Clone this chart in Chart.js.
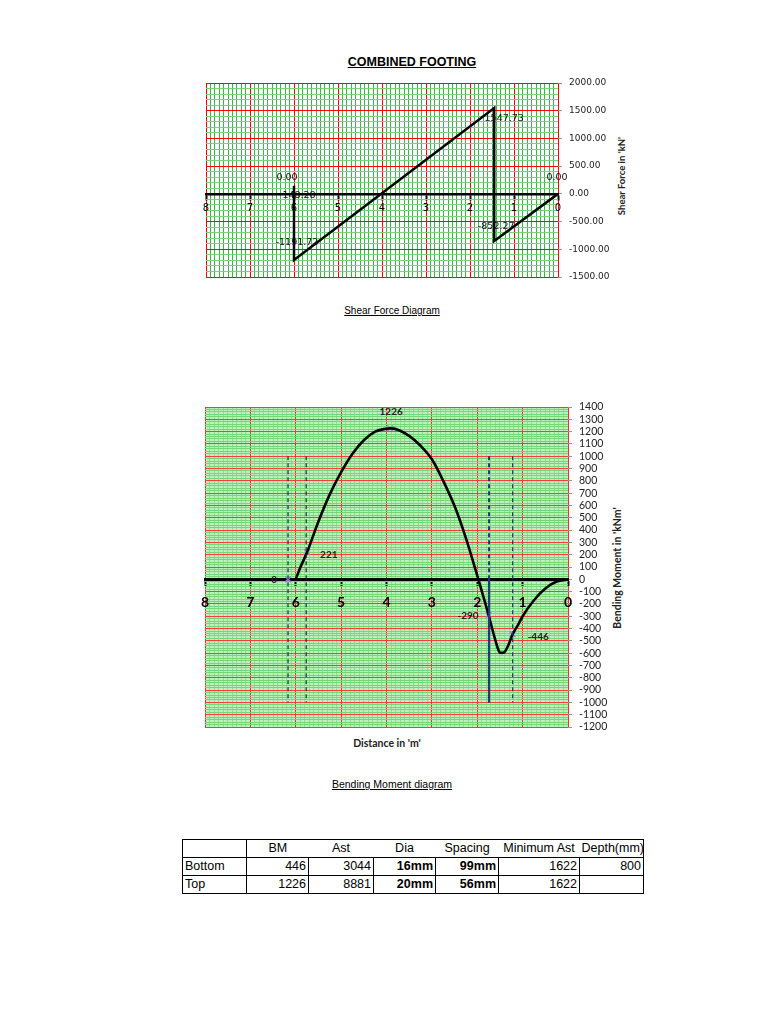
<!DOCTYPE html>
<html>
<head>
<meta charset="utf-8">
<script src="https://cdn.jsdelivr.net/npm/chart.js@4.4.1/dist/chart.umd.min.js"></script>
<style>
  html, body { margin:0; padding:0; background:#fff; }
  body { width:768px; height:1024px; position:relative; overflow:hidden; font-family:"Liberation Sans", Arial, sans-serif; color:#000; }
  .abs { position:absolute; }
  .cap { text-align:center; text-decoration:underline; white-space:nowrap; }
  .rot { transform:rotate(-90deg); transform-origin:50% 50%; text-align:center; white-space:nowrap; font-family:Lato, sans-serif; font-weight:bold; color:#222; }
  table { border-collapse:collapse; font-size:12.5px; font-family:"Liberation Sans", Arial, sans-serif; table-layout:fixed; }
  td { padding:0 2px; height:17px; line-height:17px; white-space:nowrap; overflow:visible; }
  .r { text-align:right; }
  .c { text-align:center; }
  .b { font-weight:bold; }
</style>
</head>
<body>

<div class="abs cap" style="left:262px;top:54px;width:300px;font-size:12.5px;font-weight:bold;line-height:16px;">COMBINED FOOTING</div>
<div class="abs cap" style="left:242px;top:304px;width:300px;font-size:10px;line-height:14px;">Shear Force Diagram</div>
<div class="abs cap" style="left:242px;top:777px;width:300px;font-size:10.5px;line-height:14px;">Bending Moment diagram</div>

<div class="abs rot" style="left:522px;top:170px;width:200px;height:12px;line-height:12px;font-size:9.5px;">Shear Force in 'kN'</div>
<div class="abs rot" style="left:517px;top:562px;width:200px;height:12px;line-height:12px;font-size:10.5px;">Bending Moment in 'kNm'</div>
<div class="abs" style="left:287px;top:736px;width:200px;text-align:center;font-family:Lato,sans-serif;font-weight:bold;font-size:10.5px;line-height:14px;color:#222;">Distance in 'm'</div>

<canvas id="sf" class="abs" width="768" height="240" style="left:0;top:60px;"></canvas>
<canvas id="bm" class="abs" width="768" height="360" style="left:0;top:390px;"></canvas>

<table class="abs" style="left:182px;top:839px;width:461px;">
  <colgroup><col style="width:64px"><col style="width:62px"><col style="width:65px"><col style="width:62px"><col style="width:63px"><col style="width:81px"><col style="width:64px"></colgroup>
  <tr style="border:1px solid #000;">
    <td style="border-right:1px solid #000;"></td><td class="c">BM</td><td class="c">Ast</td><td class="c">Dia</td><td class="c">Spacing</td><td class="c">Minimum Ast</td><td class="c">Depth(mm)</td>
  </tr>
  <tr style="border:1px solid #000;">
    <td style="border-right:1px solid #000;">Bottom</td><td class="r" style="border-right:1px solid #000;">446</td><td class="r" style="border-right:1px solid #000;">3044</td><td class="r b" style="border-right:1px solid #000;">16mm</td><td class="r b" style="border-right:1px solid #000;">99mm</td><td class="r" style="border-right:1px solid #000;">1622</td><td class="r">800</td>
  </tr>
  <tr style="border:1px solid #000;">
    <td style="border-right:1px solid #000;">Top</td><td class="r" style="border-right:1px solid #000;">1226</td><td class="r" style="border-right:1px solid #000;">8881</td><td class="r b" style="border-right:1px solid #000;">20mm</td><td class="r b" style="border-right:1px solid #000;">56mm</td><td class="r" style="border-right:1px solid #000;">1622</td><td class="r"></td>
  </tr>
</table>

<script>
// ---------- Shear force data ----------
const sfX = [6, 6, 6, 1.45, 1.45, 0];
const sfY = [0, 148.28, -1191.72, 1547.73, -852.27, 0];
const sfText = ['0.00', '148.28', '-1191.72', '1547.73', '-852.27', '0.00'];

// ---------- Bending moment data ----------
const bmX = [6.0, 5.9, 5.75, 5.5, 5.25, 5.0, 4.75, 4.5, 4.25, 4.0, 3.92, 3.75, 3.5, 3.25, 3.0, 2.75, 2.5, 2.25, 2.0, 1.75, 1.62, 1.52, 1.47, 1.41, 1.32, 1.22, 1.1, 1.0, 0.75, 0.5, 0.25, 0];
const bmY = [0, 95, 221, 470, 690, 870, 1020, 1130, 1200, 1224, 1226, 1215, 1165, 1085, 975, 800, 595, 335, 30, -290, -470, -585, -598, -595, -540, -446, -370, -300, -170, -75, -18, 0];

const bmMarkX = [6.17, 5.75, 3.92, 1.75, 1.22];
const bmMarkY = [0, 221, 1226, -290, -446];
const bmMarkText = ['0', '221', '1226', '-290', '-446'];

// vertical reference lines (column faces / critical sections)
const refX = [6.17, 5.77, 1.74, 1.22];
const refTop = 1000;
const refBottom = -1000;
const solidX = 1.74;

// ---------- helpers ----------
const isInt = v => Math.abs(v - Math.round(v)) < 1e-6;
const isMul = (v, m) => Math.abs(v / m - Math.round(v / m)) < 1e-6;
const transparent = 'rgba(0,0,0,0)';

function labelPlugin(id, xs, ys, texts, offs, font, color) {
  return {
    id,
    afterDatasetsDraw(chart) {
      const { ctx, scales: { x, y } } = chart;
      ctx.save();
      ctx.font = font;
      ctx.fillStyle = color;
      ctx.textBaseline = 'middle';
      texts.forEach((t, i) => {
        const o = offs[i];
        ctx.textAlign = o.align;
        ctx.fillText(t, x.getPixelForValue(xs[i]) + o.dx, y.getPixelForValue(ys[i]) + o.dy);
      });
      ctx.restore();
    }
  };
}

// ---------- Shear force chart ----------
const sfOffsets = [
  { dx: -7, dy: -16, align: 'center' },
  { dx: 5, dy: 10, align: 'center' },
  { dx: 3, dy: -17, align: 'center' },
  { dx: 10, dy: 10, align: 'center' },
  { dx: 2, dy: -15, align: 'center' },
  { dx: -1, dy: -16, align: 'center' }
];

new Chart(document.getElementById('sf'), {
  type: 'line',
  data: {
    datasets: [{
      data: sfX.map((x, i) => ({ x, y: sfY[i] })),
      borderColor: '#000',
      borderWidth: 2.5,
      pointRadius: 0,
      tension: 0,
      fill: false
    }]
  },
  options: {
    responsive: false,
    animation: false,
    devicePixelRatio: 1,
    layout: { padding: { left: 206, right: 110, top: 23, bottom: 23 } },
    plugins: { legend: { display: false }, tooltip: { enabled: false } },
    scales: {
      x: {
        type: 'linear', reverse: true, min: 0, max: 8, position: { y: 0 },
        ticks: {
          stepSize: 0.1, autoSkip: false, maxRotation: 0, minRotation: 0, padding: 4,
          font: { family: 'DejaVu Sans', size: 10 }, color: '#000',
          callback: v => isInt(v) ? String(Math.round(v)) : ''
        },
        grid: {
          color: c => isInt(c.tick.value) ? '#ff0000' : '#35b846',
          lineWidth: 1,
          tickLength: 5,
          tickWidth: 2,
          tickColor: c => isInt(c.tick.value) ? '#000' : transparent
        },
        border: { display: true, color: '#000', width: 2.5 }
      },
      y: {
        type: 'linear', position: 'right', min: -1500, max: 2000,
        afterFit: s => { s.width = 100; },
        ticks: {
          stepSize: 100, autoSkip: false, padding: 7,
          font: { family: 'DejaVu Sans', size: 9 }, color: '#222',
          callback: v => isMul(v, 500) ? Number(v).toFixed(2) : ''
        },
        grid: {
          color: c => isMul(c.tick.value, 500) ? '#ff0000' : '#7cd27c',
          lineWidth: 1,
          tickLength: 4,
          tickColor: c => isMul(c.tick.value, 500) ? '#999' : transparent
        },
        border: { display: false }
      }
    }
  },
  plugins: [labelPlugin('sfLabels', sfX, sfY, sfText, sfOffsets, '9.5px "DejaVu Sans"', '#111')]
});

// ---------- Bending moment chart ----------
const bmOffsets = [
  { dx: -11, dy: 0, align: 'right' },
  { dx: 13, dy: 3, align: 'left' },
  { dx: 1, dy: -17, align: 'center' },
  { dx: -10, dy: 1, align: 'right' },
  { dx: 15, dy: 3, align: 'left' }
];

const bgPlugin = {
  id: 'bmBg',
  beforeDraw(chart) {
    const { ctx, chartArea: a } = chart;
    ctx.save();
    ctx.fillStyle = '#bdf0bd';
    ctx.fillRect(a.left, a.top, a.width, a.height);
    ctx.restore();
  }
};

const refSets = refX.map((x, i) => ({
  data: [{ x, y: refTop }, { x, y: refBottom }],
  borderColor: i < 2 ? '#1d2b45' : '#1f3a6e',
  borderWidth: i === 2 ? 2 : 1.2,
  borderDash: [4, 3],
  pointRadius: 0,
  tension: 0,
  fill: false
}));

new Chart(document.getElementById('bm'), {
  type: 'line',
  data: {
    datasets: [
      ...refSets,
      {
        data: [{ x: solidX, y: 0 }, { x: solidX, y: refBottom }],
        borderColor: '#1f3f7e', borderWidth: 2.2, pointRadius: 0, tension: 0, fill: false
      },
      {
        data: bmX.map((x, i) => ({ x, y: bmY[i] })),
        borderColor: '#000', borderWidth: 2.6, pointRadius: 0,
        cubicInterpolationMode: 'monotone', fill: false
      },
      {
        data: bmMarkX.map((x, i) => ({ x, y: bmMarkY[i] })),
        showLine: false, pointStyle: 'crossRot', pointRadius: 4,
        pointBorderColor: '#8a8ad8', pointBorderWidth: 1.5
      }
    ]
  },
  options: {
    responsive: false,
    animation: false,
    devicePixelRatio: 1,
    layout: { padding: { left: 205, right: 100, top: 17, bottom: 23 } },
    plugins: { legend: { display: false }, tooltip: { enabled: false } },
    scales: {
      x: {
        type: 'linear', reverse: true, min: 0, max: 8, position: { y: 0 },
        ticks: {
          stepSize: 0.1, autoSkip: false, maxRotation: 0, minRotation: 0, padding: 10,
          font: { family: 'Lato', size: 14, weight: 'bold' }, color: '#000',
          callback: v => isInt(v) ? String(Math.round(v)) : ''
        },
        grid: {
          color: c => isInt(c.tick.value) ? '#ff2a2a' : '#8fe08f',
          lineWidth: 1,
          tickLength: 5,
          tickWidth: 2,
          tickColor: c => isInt(c.tick.value) ? '#000' : transparent
        },
        border: { display: true, color: '#000', width: 3 }
      },
      y: {
        type: 'linear', position: 'right', min: -1200, max: 1400,
        afterFit: s => { s.width = 100; },
        ticks: {
          stepSize: 20, autoSkip: false, padding: 7,
          font: { family: 'Lato', size: 10.5 }, color: '#222',
          callback: v => isMul(v, 100) ? String(Math.round(v)) : ''
        },
        grid: {
          color: c => isMul(c.tick.value, 100) ? '#ff3a3a' : '#74d674',
          lineWidth: 1,
          tickLength: 4,
          tickColor: c => isMul(c.tick.value, 100) ? '#999' : transparent
        },
        border: { display: false }
      }
    }
  },
  plugins: [bgPlugin, labelPlugin('bmLabels', bmMarkX, bmMarkY, bmMarkText, bmOffsets, 'bold 10px Lato', '#222')]
});
</script>
</body>
</html>
